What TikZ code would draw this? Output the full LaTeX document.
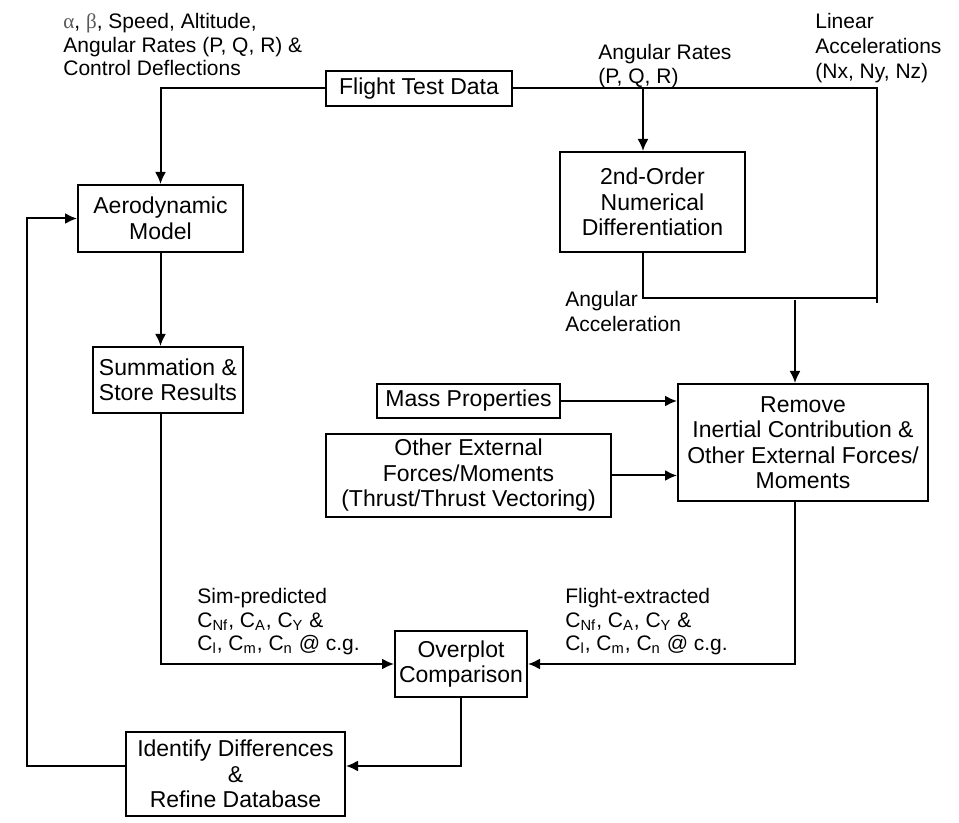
\documentclass[tikz,border=0pt]{standalone}
\usepackage{fontspec}
\setmainfont{Liberation Sans}
\newfontfamily\grkfont{Liberation Serif}
\usetikzlibrary{arrows.meta}
\begin{document}
\begin{tikzpicture}[x=0.5pt,y=-0.5pt,
  box/.style={draw, line width=1pt, inner sep=0pt, align=center, font=\fontsize{11.5}{12.75}\selectfont},
  lbl/.style={inner sep=0pt, align=left, anchor=north west, font=\fontsize{10.5}{11.75}\selectfont},
  conn/.style={line width=1pt},
  arr/.style={conn, -{Latex[length=6pt,width=5.5pt]}},
]
\useasboundingbox (0,0) rectangle (959,823);
% boxes
\node[box, minimum width=93pt, minimum height=17.5pt] (ftd) at (419,88.5) {Flight Test Data};
\node[box, minimum width=82.5pt, minimum height=33.5pt] (aero) at (160.5,218.5) {Aerodynamic\\Model};
\node[box, minimum width=75pt, minimum height=33pt] (summ) at (168,380) {Summation \&\\Store Results};
\node[box, minimum width=92.5pt, minimum height=50pt] (diff) at (652.5,202) {2nd-Order\\Numerical\\Differentiation};
\node[box, minimum width=91.5pt, minimum height=17pt] (mass) at (468.5,401) {Mass Properties};
\node[box, minimum width=125pt, minimum height=58.5pt] (remove) at (803,442.5) {Remove\\Inertial Contribution \&\\Other External Forces/\\Moments};
\node[box, minimum width=142.5pt, minimum height=41.5pt] (other) at (468.5,475.5) {Other External\\Forces/Moments\\(Thrust/Thrust Vectoring)};
\node[box, minimum width=66pt, minimum height=33pt] (over) at (461,664) {Overplot\\Comparison};
\node[box, minimum width=109.5pt, minimum height=42pt] (ident) at (235.5,774) {Identify Differences\\\&\\Refine Database};
% labels
\node[lbl] (l1) at (63,13) {{\grkfont\color{black!65}α}, {\grkfont\color{black!65}β}, Speed, Altitude,\\Angular Rates (P, Q, R) \&\\Control Deflections};
\node[lbl] (l2) at (598,44) {Angular Rates\\(P, Q, R)};
\node[lbl, font=\fontsize{10.5}{12.5}\selectfont] (l3) at (815,13) {Linear\\Accelerations\\(Nx, Ny, Nz)};
\node[lbl, font=\fontsize{10.5}{12.5}\selectfont] (l4) at (565,291) {Angular\\Acceleration};
\node[lbl] (l5) at (197,588) {Sim-predicted\\C\textsubscript{Nf}, C\textsubscript{A}, C\textsubscript{Y} \&\\C\textsubscript{l}, C\textsubscript{m}, C\textsubscript{n} @ c.g.};
\node[lbl] (l6) at (565,588) {Flight-extracted\\C\textsubscript{Nf}, C\textsubscript{A}, C\textsubscript{Y} \&\\C\textsubscript{l}, C\textsubscript{m}, C\textsubscript{n} @ c.g.};
% coordinates
\coordinate (rt) at (877,88.5);
\coordinate (rb) at (877,303);
\coordinate (br) at (643,88.5);
\coordinate (ja) at (643,298);
\coordinate (jr) at (877,298);
\coordinate (jb) at (795,300);
\coordinate (fb) at (27,221);
% connectors
\draw[arr] (ftd.west) -| (aero.north);
\draw[conn] (ftd.east) -- (rt) -- (rb);
\draw[arr] (br) -- (br |- diff.north);
\draw[conn] (br |- diff.south) -- (ja) -- (jr);
\draw[arr] (jb) -- (jb |- remove.north);
\draw[arr] (mass.east) -- (mass.east -| remove.west);
\draw[arr] (other.east) -- (other.east -| remove.west);
\draw[arr] (aero.south) -- (aero.south |- summ.north);
\draw[arr] (aero.south |- summ.south) |- (over.west);
\draw[arr] (jb |- remove.south) |- (over.east);
\draw[arr] (over.south) |- ([yshift=4pt]ident.east);
\draw[arr] ([yshift=4pt]ident.west) -| (fb) |- (aero.west);
\end{tikzpicture}
\end{document}
